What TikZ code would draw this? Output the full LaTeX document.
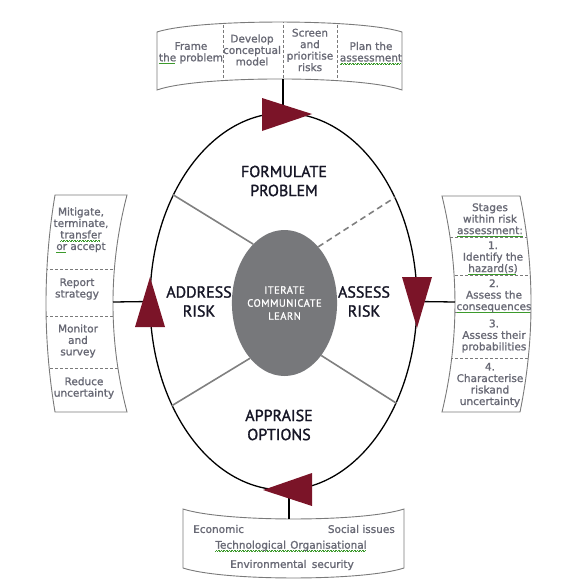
\documentclass[tikz,border=0pt]{standalone}
\usepackage{fontspec}
\usetikzlibrary{shapes.geometric}
\setmainfont{DejaVu Sans}
\newfontfamily\boxfont[FakeBold=1.2]{DejaVu Sans}
\newfontfamily\stagefont[FakeBold=1.6]{PT Sans}
\newfontfamily\hubfont[LetterSpace=5,FakeBold=1.4]{PT Sans}
\definecolor{riskred}{HTML}{7B1428}
\definecolor{hubgray}{HTML}{77787B}
\definecolor{spokegray}{HTML}{808080}
\definecolor{scrollgray}{HTML}{7A7A7A}
\definecolor{boxink}{HTML}{686975}
\definecolor{labelink}{HTML}{161626}
\definecolor{spellgreen}{HTML}{3C9A2C}
% wavy spell-check underline
\newcommand\spell[1]{\setbox0=\hbox{#1}\rlap{\lower2.6pt\hbox to \wd0{\color{spellgreen}%
  \leaders\hbox to 1.6pt{\vrule width 0.8pt height 0.5pt depth 0pt\raise0.5pt\hbox{\vrule width 0.8pt height 0.5pt depth 0pt}}\hfill}}\box0\relax}
\tikzset{
  outerring/.style={
    ellipse, draw=black, line width=1.3pt,
    minimum width=267pt, minimum height=377pt, inner sep=0pt
  },
  hubdisc/.style={
    ellipse, fill=hubgray, text=white,
    minimum width=93pt, minimum height=146pt, inner sep=0pt,
    font=\hubfont\fontsize{10.5}{13}\selectfont, align=center
  },
  spoke/.style={draw=spokegray, line width=1.6pt},
  joinline/.style={draw=black, line width=1.3pt},
  turnarrow/.style={fill=riskred},
  scrollbox/.style={draw=scrollgray, line width=0.9pt, fill=white},
  dividerline/.style={draw=scrollgray, line width=0.8pt, dash pattern=on 3pt off 2pt},
  boxtext/.style={
    font=\boxfont\fontsize{10.5}{11.5}\selectfont, text=boxink,
    align=center, inner sep=0pt
  },
  stagelabel/.style={
    font=\stagefont\fontsize{16}{19}\selectfont, text=labelink,
    align=center, inner sep=0pt
  },
}
\newcommand\topscroll{(157,32) .. controls (198,18.7) and (361,18.7) .. (402,32)
  -- (402,90) .. controls (361,75.3) and (198,75.3) .. (157,90) -- cycle}
\newcommand\leftscroll{(55,195) -- (127,195) .. controls (108.3,267) and (108.3,340) .. (127,412)
  -- (55,412) .. controls (43,340) and (43,267) .. (55,195) -- cycle}
\newcommand\rightscroll{(442,196) -- (520,196) .. controls (534.7,267) and (534.7,340) .. (520,412)
  -- (442,412) .. controls (459.3,340) and (459.3,267) .. (442,196) -- cycle}
\newcommand\botscroll{(183,509) .. controls (224,522.3) and (363,522.3) .. (404,509)
  -- (404,568) .. controls (363,581.3) and (224,581.3) .. (183,568) -- cycle}
\begin{document}
\begin{tikzpicture}[x=1pt, y=-1pt]
  \useasboundingbox (0,0) rectangle (578,586);

  % Scroll boxes
  \draw[scrollbox] \topscroll;
  \begin{scope}
    \clip \topscroll;
    \foreach \x in {223,283,337} \draw[dividerline] (\x,0) -- (\x,100);
  \end{scope}
  \draw[scrollbox] \leftscroll;
  \begin{scope}
    \clip \leftscroll;
    \foreach \y in {269,316,368} \draw[dividerline] (30,\y) -- (140,\y);
  \end{scope}
  \draw[scrollbox] \rightscroll;
  \begin{scope}
    \clip \rightscroll;
    \foreach \y in {237,275,312,358} \draw[dividerline] (430,\y) -- (545,\y);
  \end{scope}
  \draw[scrollbox] \botscroll;

  % Box texts
  \node[boxtext] (frame) at (191,53) {Frame\\\spell{the} problem};
  \node[boxtext] (develop) at (252,50) {Develop\\conceptual\\model};
  \node[boxtext] (screen) at (310,50) {Screen\\and\\prioritise\\risks};
  \node[boxtext] (plan) at (371,53) {Plan the\\\spell{assessment}};

  \node[boxtext] (mitigate) at (81,230) {Mitigate,\\terminate,\\\spell{transfer}\\\spell{or} accept};
  \node[boxtext] (report) at (77,289) {Report\\strategy};
  \node[boxtext] (monitor) at (78,341) {Monitor\\and\\survey};
  \node[boxtext] (reduce) at (84,388) {Reduce\\uncertainty};

  \node[boxtext] (stages) at (490,220) {Stages\\within risk\\\spell{assessment:}};
  \node[boxtext] (hazard) at (493,258) {1.\\Identify the\\\spell{hazard(s)}};
  \node[boxtext] (conseq) at (494,296) {2.\\Assess the\\\spell{consequences}};
  \node[boxtext] (prob) at (494,336) {3.\\Assess their\\probabilities};
  \node[boxtext] (charact) at (490,385) {4.\\Characterise\\riskand\\uncertainty};

  \node[boxtext, anchor=west] (economic) at (193,529) {Economic};
  \node[boxtext, anchor=east] (social) at (395,529) {Social issues};
  \node[boxtext] (technol) at (291,546) {\spell{Technological\hspace{0.4em}Organisational}};
  \node[boxtext] (environ) at (292,565) {Environmental\hspace{0.5em}security};

  % Cycle and hub
  \node[outerring] (ring) at (283.5,301.5) {};
  \node[hubdisc] (hub) at (284.5,303) {ITERATE\\COMMUNICATE\\LEARN};
  \draw[spoke] (hub.118) -- (ring.136);
  \draw[spoke, dash pattern=on 6pt off 4pt] (hub.59) -- (ring.43);
  \draw[spoke] (hub.238) -- (ring.223);
  \draw[spoke] (hub.305) -- (ring.318);

  % Links to the boxes
  \coordinate (topjoin) at (283,79);
  \coordinate (leftjoin) at (113,302);
  \coordinate (rightjoin) at (455,302);
  \coordinate (botjoin) at (289,519);
  \draw[joinline] (topjoin) -- (topjoin |- ring.north);
  \draw[joinline] (leftjoin) -- (ring.west);
  \draw[joinline] (ring.east) -- (rightjoin);
  \draw[joinline] (botjoin) -- (botjoin |- ring.south);

  % Direction arrows
  \fill[turnarrow] (262,98) -- (312,114) -- (262,131) -- cycle;
  \fill[turnarrow] (402,277) -- (432,277) -- (417,328) -- cycle;
  \fill[turnarrow] (312,473) -- (312,506) -- (263,490) -- cycle;
  \fill[turnarrow] (135,327) -- (165,327) -- (150,277) -- cycle;

  % Stage labels
  \node[stagelabel] (formulate) at (284,181) {FORMULATE\\PROBLEM};
  \node[stagelabel] (address) at (199,301.5) {ADDRESS\\RISK};
  \node[stagelabel] (assess) at (364,301.5) {ASSESS\\RISK};
  \node[stagelabel] (appraise) at (279,425) {APPRAISE\\OPTIONS};
\end{tikzpicture}
\end{document}
